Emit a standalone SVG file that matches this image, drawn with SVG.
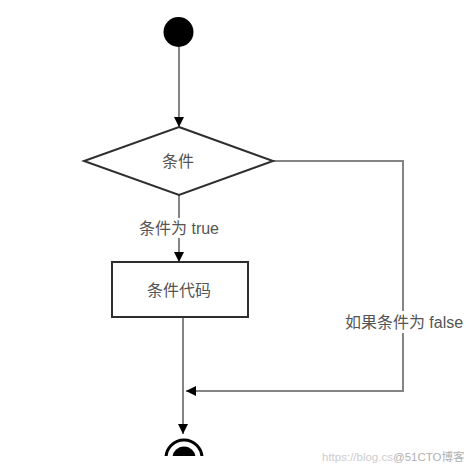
<svg xmlns="http://www.w3.org/2000/svg" width="474" height="470" viewBox="0 0 474 470">
<style>
.ln{fill:none;stroke:#858585;stroke-width:2}
.sh{fill:#fff;stroke:#2e2e2e;stroke-width:2}
.tx{font-family:"Liberation Sans","Noto Sans CJK SC",sans-serif;font-size:16px;fill:#555;text-anchor:middle;dominant-baseline:central}
.wm{font-family:"Liberation Sans","Noto Sans CJK SC",sans-serif;font-size:11.5px;fill:#cdcdcd}
</style>
<defs>
<marker id="ah" viewBox="0 0 10 10" refX="10" refY="5" markerWidth="10" markerHeight="10" markerUnits="userSpaceOnUse" orient="auto">
<path d="M0,0 L10,5 L0,10 Z" fill="#000"/>
</marker>
<clipPath id="cut"><rect x="0" y="0" width="474" height="456"/></clipPath>
</defs>
<rect width="474" height="470" fill="#fff"/>
<g id="connectors">
<line class="ln" x1="179" y1="47" x2="179" y2="127" marker-end="url(#ah)"/>
<line class="ln" x1="179" y1="195" x2="179" y2="262" marker-end="url(#ah)"/>
<line class="ln" x1="183" y1="318" x2="183" y2="434" marker-end="url(#ah)"/>
<polyline class="ln" points="273,161 403,161 403,391 186,391" marker-end="url(#ah)"/>
<rect x="134" y="218" width="90" height="20" fill="#fff"/>
<text class="tx" x="179" y="228">条件为 true</text>
<rect x="342" y="311" width="124" height="22" fill="#fff"/>
<text class="tx" x="404" y="322">如果条件为 false</text>
</g>
<g id="start">
<circle cx="178.5" cy="32" r="15" fill="#000"/>
</g>
<g id="decision">
<polygon class="sh" points="179,127 273,161 179,195 84,161"/>
<text class="tx" x="178" y="161">条件</text>
</g>
<g id="code">
<rect class="sh" x="112" y="262" width="136" height="55"/>
<text class="tx" x="179" y="290">条件代码</text>
</g>
<g id="end" clip-path="url(#cut)">
<circle cx="184" cy="458" r="18" fill="none" stroke="#000" stroke-width="3"/>
<circle cx="184" cy="458" r="11.5" fill="#000"/>
</g>
<g id="watermark">
<text class="wm" x="322" y="461">https://blog.cs<tspan style="fill:#b0b0b0">@51CTO博客</tspan></text>
</g>
</svg>
